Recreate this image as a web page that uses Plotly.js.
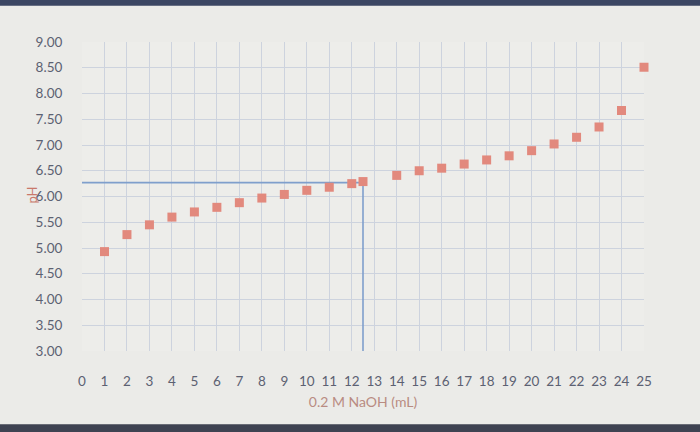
<!DOCTYPE html>
<html>
<head>
<meta charset="utf-8">
<script src="https://cdn.plot.ly/plotly-3.0.1.min.js"></script>
<style>
html,body{margin:0;padding:0;background:#EBEBE8;}
#chart{width:700px;height:432px;}
</style>
</head>
<body>
<div id="chart"></div>
<script>
// Titration data
const naohVolume = [1, 2, 3, 4, 5, 6, 7, 8, 9, 10, 11, 12, 12.5, 14, 15, 16, 17, 18, 19, 20, 21, 22, 23, 24, 25];
const phValues   = [4.93, 5.26, 5.45, 5.60, 5.70, 5.79, 5.88, 5.97, 6.04, 6.12, 6.18, 6.25, 6.29, 6.41, 6.50, 6.55, 6.63, 6.71, 6.79, 6.89, 7.02, 7.15, 7.35, 7.67, 8.51];
// Half-equivalence guide lines
const guideX = [0, 12.5, 12.5];
const guideY = [6.27, 6.27, 3];
const xTicks = [0,1,2,3,4,5,6,7,8,9,10,11,12,13,14,15,16,17,18,19,20,21,22,23,24,25];
const yTicks = [3,3.5,4,4.5,5,5.5,6,6.5,7,7.5,8,8.5,9];

const guide = {
  x: guideX, y: guideY, mode: 'lines', type: 'scatter',
  line: {color: '#7F9FCC', width: 1.6},
  hoverinfo: 'skip', showlegend: false, cliponaxis: false
};
const points = {
  x: naohVolume, y: phValues, mode: 'markers', type: 'scatter',
  marker: {symbol: 'square', size: 9, color: '#E2897D'},
  showlegend: false, cliponaxis: false
};

const font = "Lato, 'Open Sans', sans-serif";
const layout = {
  width: 700, height: 432,
  margin: {l: 82, r: 56, t: 42, b: 81},
  paper_bgcolor: '#EBEBE8',
  plot_bgcolor: '#EDEDEA',
  font: {family: font, color: '#5C6172'},
  showlegend: false,
  xaxis: {
    range: [0, 25],
    tickmode: 'array', tickvals: xTicks,
    ticktext: xTicks.map(String),
    ticks: 'outside', ticklen: 18, tickcolor: 'rgba(0,0,0,0)',
    tickfont: {size: 13.5, color: '#5C6172', family: font},
    showgrid: true, gridcolor: '#CDD3DE', gridwidth: 1,
    zeroline: false, showline: false,
    title: {text: '0.2 M NaOH (mL)', font: {size: 14, color: '#B98B82', family: font}, standoff: 8}
  },
  yaxis: {
    range: [3, 9],
    tickmode: 'array', tickvals: yTicks,
    ticktext: yTicks.map(v => v.toFixed(2)),
    ticks: 'outside', ticklen: 16, tickcolor: 'rgba(0,0,0,0)',
    tickfont: {size: 13.5, color: '#5C6172', family: font},
    showgrid: true, gridcolor: '#CDD3DE', gridwidth: 1,
    zeroline: false, showline: false
  },
  annotations: [{
    text: 'pH', textangle: -90, showarrow: false,
    xref: 'paper', yref: 'y', x: 0, y: 6.0, xanchor: 'center', yanchor: 'middle',
    xshift: -51, yshift: 1,
    font: {size: 13, color: '#C9796B', family: font}
  }],
  shapes: [
    {type: 'rect', xref: 'paper', yref: 'paper', x0: -0.2, x1: 1.2, y0: 1.117, y1: 1.2,
     fillcolor: '#3B4663', line: {width: 0}, layer: 'above'},
    {type: 'rect', xref: 'paper', yref: 'paper', x0: -0.2, x1: 1.2, y0: -0.3, y1: -0.237,
     fillcolor: '#3F4352', line: {width: 0}, layer: 'above'}
  ]
};

Plotly.newPlot('chart', [guide, points], layout, {displayModeBar: false, staticPlot: true});
</script>
</body>
</html>
